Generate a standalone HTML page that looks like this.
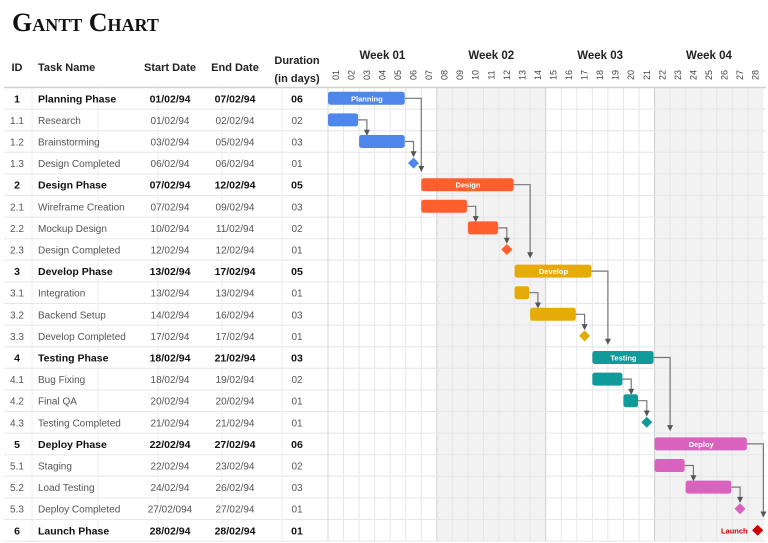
<!DOCTYPE html>
<html><head><meta charset="utf-8"><style>
body{margin:0;background:#fff;width:768px;height:543px;overflow:hidden}
svg{display:block;font-family:"Liberation Sans",sans-serif}
</style></head><body>
<svg id="g" width="768" height="543">
<text x="12" y="31" font-family="Liberation Serif,serif" font-size="26" font-weight="bold" font-variant="small-caps" fill="#111">Gantt Chart</text>
</svg>
<script>
const ids=["1","1.1","1.2","1.3","2","2.1","2.2","2.3","3","3.1","3.2","3.3","4","4.1","4.2","4.3","5","5.1","5.2","5.3","6"];
const names=["Planning Phase","Research","Brainstorming","Design Completed","Design Phase","Wireframe Creation","Mockup Design","Design Completed","Develop Phase","Integration","Backend Setup","Develop Completed","Testing Phase","Bug Fixing","Final QA","Testing Completed","Deploy Phase","Staging","Load Testing","Deploy Completed","Launch Phase"];
const startDates=["01/02/94","01/02/94","03/02/94","06/02/94","07/02/94","07/02/94","10/02/94","12/02/94","13/02/94","13/02/94","14/02/94","17/02/94","18/02/94","18/02/94","20/02/94","21/02/94","22/02/94","22/02/94","24/02/94","27/02/094","28/02/94"];
const endDates=["07/02/94","02/02/94","05/02/94","06/02/94","12/02/94","09/02/94","11/02/94","12/02/94","17/02/94","13/02/94","16/02/94","17/02/94","21/02/94","19/02/94","20/02/94","21/02/94","27/02/94","23/02/94","26/02/94","27/02/94","28/02/94"];
const durations=["06","02","03","01","05","03","02","01","05","01","03","01","03","02","01","01","06","02","03","01","01"];
const barStart=[1,1,3,6,7,7,10,12,13,13,14,17,18,18,20,21,22,22,24,27,28];
const barEnd=[5,2,5,6,12,9,11,12,17,13,16,17,21,19,20,21,27,23,26,27,28];
const kinds=["phase","task","task","ms","phase","task","task","ms","phase","task","task","ms","phase","task","task","ms","phase","task","task","ms","launch"];
const barLabels=["Planning","","","","Design","","","","Develop","","","","Testing","","","","Deploy","","","","Launch"];
const colors=["#4f86ec","#ff5e2e","#e5ab06","#119a9a","#d862bd","#cc0000"];
const weeks=["Week 01","Week 02","Week 03","Week 04"];
const NS="http://www.w3.org/2000/svg",svg=document.getElementById('g');
const X0=328,DW=15.55,Y0=87.5,RH=21.6;
const dx=d=>X0+(d-1)*DW, ry=i=>Y0+i*RH;
function mk(t,a,p){const e=document.createElementNS(NS,t);for(const k in a)e.setAttribute(k,a[k]);(p||svg).appendChild(e);return e;}
for(const w of [1,3]){const r=mk('rect',{x:dx(w*7+1),y:Y0,width:7*DW,height:RH*21,fill:'#f2f2f2'});

}
for(let d=1;d<=28;d++)mk('line',{x1:dx(d),x2:dx(d),y1:Y0,y2:ry(21),stroke:(d%7==1)?'#cfcfcf':'#e6e6e6','stroke-width':1});
for(let i=0;i<=21;i++)mk('line',{x1:4,x2:766,y1:ry(i),y2:ry(i),stroke:i==0?'#d0d0d0':'#e6e6e6','stroke-width':i==0?1.5:1});
for(const x of [32,98,158,222,282])mk('line',{x1:x,x2:x,y1:Y0,y2:ry(21),stroke:'#ececec'});
mk('line',{x1:328,x2:328,y1:Y0,y2:ry(21),stroke:'#d8d8d8'});
const hdr=[["ID",17,67],["Task Name",38,67],["Start Date",170,67],["End Date",235,67],["Duration",297,60],["(in days)",297,78]];
hdr.forEach(h=>{const t=mk('text',{x:h[1],y:h[2]+4,'font-size':11,'font-weight':'bold',fill:'#222','text-anchor':h[1]==38?'start':'middle'});t.textContent=h[0];

});
weeks.forEach((w,i)=>{const t=mk('text',{x:dx(i*7+1)+3.5*DW,y:59,'font-size':11.5,'font-weight':'bold',fill:'#222','text-anchor':'middle'});t.textContent=w;

});
for(let d=1;d<=28;d++){const cx=dx(d)+DW/2;const t=mk('text',{x:0,y:0,'font-size':9,fill:'#444','text-anchor':'middle',transform:`translate(${cx+3},75) rotate(-90)`});t.textContent=String(d).padStart(2,'0');

}
names.forEach((n,i)=>{const y=ry(i)+RH/2+4,b=kinds[i]=='phase'||kinds[i]=='launch';
const cols=[[ids[i],17,'middle'],[n,38,'start'],[startDates[i],170,'middle'],[endDates[i],235,'middle'],[durations[i],297,'middle']];
cols.forEach(c=>{const t=mk('text',{x:c[1],y:y,'font-size':b?10.5:10,'font-weight':b?'bold':'normal',fill:b?'#111':'#555','text-anchor':c[2]});t.textContent=c[0];

});
});
function arrow(pts){mk('polyline',{points:pts.map(p=>p.join(',')).join(' '),fill:'none',stroke:'#777','stroke-width':1.2});
const [x,y]=pts[pts.length-1];mk('polygon',{points:`${x-3},${y-5} ${x+3},${y-5} ${x},${y+1}`,fill:'#555'});}
names.forEach((n,i)=>{const cy=ry(i)+RH/2;
if(kinds[i]=='phase'){const xa=dx(barEnd[i]+2);arrow([[dx(barEnd[i]+1)-1,cy],[xa,cy],[xa,ry(i+4)-3]]);}
else if(kinds[i]=='task'){const xe=dx(barEnd[i]+1),xa=xe+DW/2;arrow([[xe-1,cy],[xa,cy],[xa,ry(i+1)+4]]);}
});
names.forEach((n,i)=>{const c=colors[Math.floor(i/4)],cy=ry(i)+RH/2;
if(kinds[i]=='phase'||kinds[i]=='task'){const x=dx(barStart[i]),w=(barEnd[i]-barStart[i]+1)*DW;
const r=mk('rect',{x:x,y:cy-6.5,width:w-1,height:13,rx:2.5,fill:c});


if(barLabels[i]){const t=mk('text',{x:x+w/2,y:cy+3,'font-size':7.5,'font-weight':'bold',fill:'#fff','text-anchor':'middle'});t.textContent=barLabels[i];}}
else{const x=dx(barStart[i])+DW/2+(kinds[i]=='launch'?2:0);
const p=mk('polygon',{points:`${x},${cy-5.5} ${x+5.5},${cy} ${x},${cy+5.5} ${x-5.5},${cy}`,fill:c});


if(kinds[i]=='launch'){const t=mk('text',{x:x-10,y:cy+3,'font-size':7.5,'font-weight':'bold',fill:'#cc0000','text-anchor':'end'});t.textContent=barLabels[i];}}
});
</script>
</body></html>
